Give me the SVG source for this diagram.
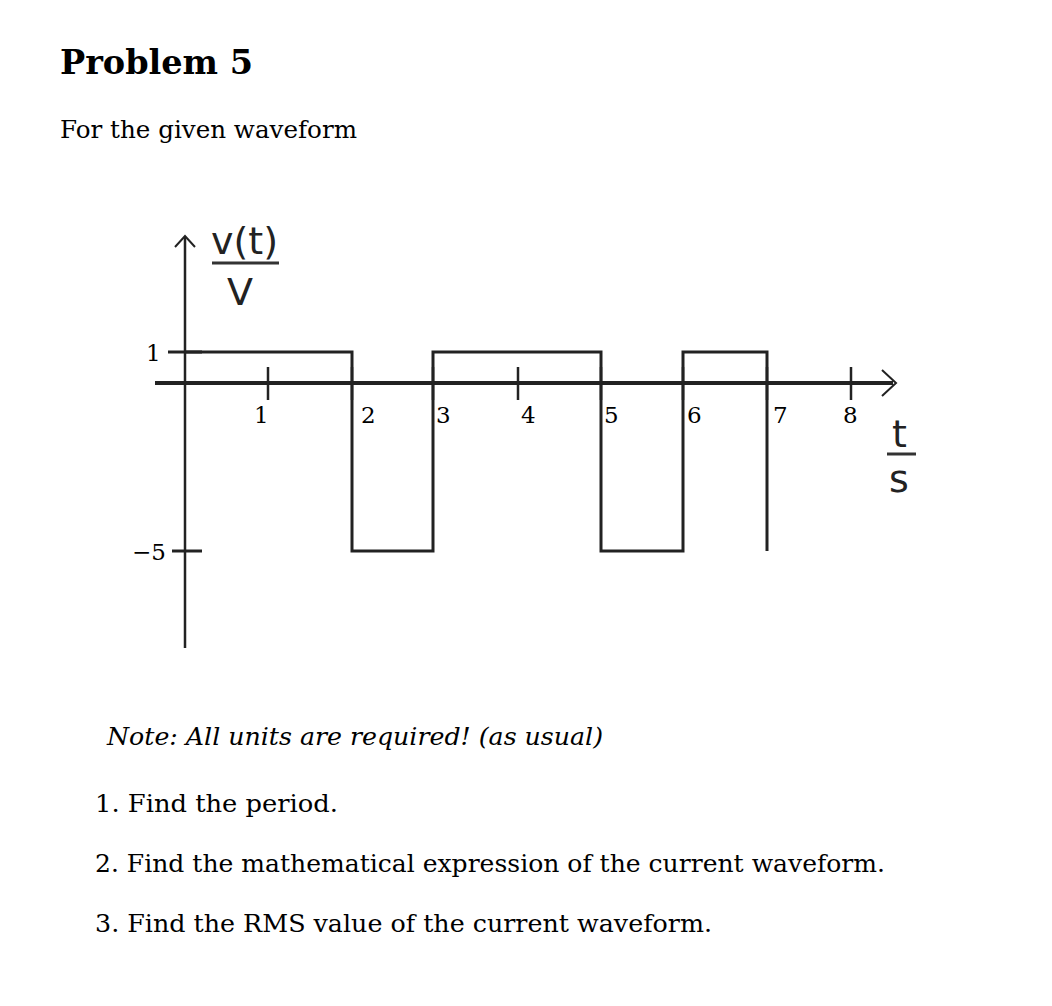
<svg xmlns="http://www.w3.org/2000/svg" width="1052" height="1006" viewBox="0 0 1052 1006">
<style>
.t{font-family:"DejaVu Serif","Liberation Serif",serif;fill:#000}
.s{font-family:"DejaVu Sans","Liberation Sans",sans-serif;fill:#222}
.ax{stroke:#222;fill:none}
.w{stroke:#222;stroke-width:3;fill:none}
</style>
<rect width="1052" height="1006" fill="#fff"/>
<text class="t" x="60" y="74" font-size="34" font-weight="bold" textLength="193" lengthAdjust="spacingAndGlyphs">Problem 5</text>
<text class="t" x="60" y="138" font-size="24" textLength="297" lengthAdjust="spacingAndGlyphs">For the given waveform</text>
<g id="axes">
<line class="ax" x1="185" y1="237" x2="185" y2="648" stroke-width="2.5"/>
<polyline class="ax" points="175,247 185,236 195,247" stroke-width="2"/>
<line class="ax" x1="155" y1="383" x2="893" y2="383" stroke-width="4"/>
<polyline class="ax" points="882,370 896,383 882,396" stroke-width="2"/>
<line class="ax" x1="168" y1="352" x2="202" y2="352" stroke-width="3"/>
<line class="ax" x1="172" y1="551" x2="202" y2="551" stroke-width="3"/>
<g stroke="#222" stroke-width="2.5">
<line x1="268" y1="367" x2="268" y2="400"/><line x1="352" y1="367" x2="352" y2="400"/>
<line x1="433" y1="367" x2="433" y2="400"/><line x1="518" y1="367" x2="518" y2="400"/>
<line x1="601" y1="367" x2="601" y2="400"/><line x1="683" y1="367" x2="683" y2="400"/>
<line x1="767" y1="367" x2="767" y2="400"/><line x1="851" y1="367" x2="851" y2="400"/>
</g>
</g>
<g id="labels" class="t" font-size="23">
<text x="146" y="361">1</text>
<text x="132" y="560">−5</text>
<text x="254" y="423">1</text><text x="361" y="423">2</text><text x="436" y="423">3</text>
<text x="521" y="423">4</text><text x="604" y="423">5</text><text x="687" y="423">6</text>
<text x="773" y="423">7</text><text x="843" y="423">8</text>
</g>
<g id="units">
<text class="s" x="211" y="254" font-size="38">v(t)</text>
<line x1="212" y1="263" x2="279" y2="263" stroke="#333" stroke-width="3"/>
<text class="s" x="227" y="305" font-size="38">V</text>
<text class="s" x="892" y="447" font-size="38">t</text>
<line x1="887" y1="454" x2="916" y2="454" stroke="#333" stroke-width="3"/>
<text class="s" x="889" y="492" font-size="38">s</text>
</g>
<g id="waveform">
<polyline class="w" points="185,352 352,352 352,551 433,551 433,352 601,352 601,551 683,551 683,352 767,352 767,551"/>
</g>
<text class="t" x="107" y="745" font-size="24" font-style="italic" textLength="496" lengthAdjust="spacingAndGlyphs">Note: All units are required! (as usual)</text>
<text class="t" x="95" y="812" font-size="24" textLength="243" lengthAdjust="spacingAndGlyphs">1.  Find the period.</text>
<text class="t" x="95" y="872" font-size="24" textLength="790" lengthAdjust="spacingAndGlyphs">2.  Find the mathematical expression of the current waveform.</text>
<text class="t" x="95" y="932" font-size="24" textLength="617" lengthAdjust="spacingAndGlyphs">3.  Find the RMS value of the current waveform.</text>
</svg>
